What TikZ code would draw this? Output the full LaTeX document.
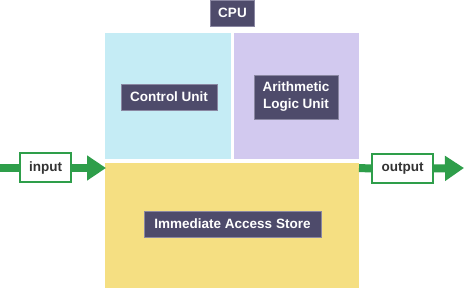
\documentclass[tikz,border=0pt]{standalone}
\usepackage{fontspec}
\setmainfont{Liberation Sans}
\usetikzlibrary{arrows.meta}
\definecolor{cucyan}{HTML}{C5ECF5}
\definecolor{alupurple}{HTML}{D2C9EF}
\definecolor{iasyellow}{HTML}{F5DF82}
\definecolor{labeldark}{HTML}{4E4B6B}
\definecolor{labelborder}{HTML}{8A87A2}
\definecolor{flowgreen}{HTML}{2E9E4A}
\definecolor{iotext}{HTML}{333333}
\begin{document}
\begin{tikzpicture}[x=1pt,y=-1pt,
  region/.style={draw=none,anchor=north west,inner sep=0pt},
  darklabel/.style={fill=labeldark,draw=labelborder,line width=0.6pt,text=white,
    font=\bfseries\fontsize{13.5}{17}\selectfont,align=center,inner xsep=8pt,inner ysep=0pt,minimum height=26pt},
  iobox/.style={fill=white,draw=flowgreen,line width=2pt,text=iotext,
    font=\bfseries\fontsize{13.5}{17}\selectfont,inner sep=0pt,minimum height=29pt},
  flow/.style={draw=flowgreen,line width=8pt},
  flowarrow/.style={flow,-{Triangle[length=19pt,width=24pt]}}
]
\useasboundingbox (0,0) rectangle (464,288);
\fill[white] (0,0) rectangle (464,288);
% regions
\node[region,fill=cucyan,minimum width=126pt,minimum height=126pt] (cu) at (105,33) {};
\node[region,fill=alupurple,minimum width=125pt,minimum height=126pt] (alu) at (234,33) {};
\node[region,fill=iasyellow,minimum width=254pt,minimum height=125pt] (ias) at (105,163) {};
% labels
\node[darklabel,minimum width=41pt] (cpu) at (232.5,13) {CPU};
\node[darklabel,minimum width=96pt] (culabel) at (169,97) {Control Unit};
\node[darklabel,minimum width=84pt,minimum height=44pt] (alulabel) at (296,97) {Arithmetic\\Logic Unit};
\node[darklabel,minimum width=177pt] (iaslabel) at (232.5,224) {Immediate Access Store};
% input / output
\node[iobox,minimum width=51pt] (inbox) at (45.5,168) {input};
\node[iobox,minimum width=61pt] (outbox) at (402.5,168.5) {output};
\coordinate (inleft) at (0,168);
\coordinate (intip) at (106,168);
\coordinate (outstart) at (359,168);
\coordinate (outtip) at (464,168);
\begin{scope}[on background layer/.style={}]
\end{scope}
\draw[flow] (inleft) -- (inbox.west);
\draw[flowarrow] (inbox.east) -- (intip);
\draw[flow] (outstart) -- (outbox.west);
\draw[flowarrow] (outbox.east) -- (outtip);
\end{tikzpicture}
\end{document}
